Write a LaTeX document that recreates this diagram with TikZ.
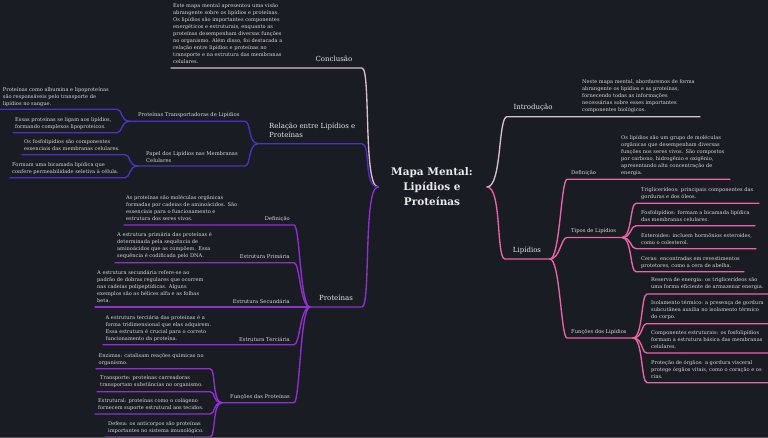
\documentclass[tikz,border=0pt]{standalone}
\usepackage{fontspec}
\setmainfont{DejaVu Serif}
\definecolor{bgc}{HTML}{1A1C23}
\definecolor{txt}{HTML}{DADADA}
\definecolor{pale}{HTML}{D9BFCE}
\definecolor{pinkc}{HTML}{E965A8}
\definecolor{purp}{HTML}{9030D0}
\definecolor{indi}{HTML}{5030C0}
\tikzset{
  x=1pt,y=-1pt,
  body/.style={anchor=north west,inner sep=0pt,align=left,text=txt,font=\fontsize{5.1}{7}\selectfont},
  sub/.style={anchor=west,inner sep=0pt,align=left,text=txt,font=\fontsize{5.2}{7}\selectfont},
  subr/.style={anchor=east,inner sep=0pt,align=right,text=txt,font=\fontsize{5.2}{7}\selectfont},
  mainl/.style={inner sep=0pt,align=left,text=white!90!black,font=\fontsize{7}{9}\selectfont},
  wire/.style={line width=1.35pt,line cap=round,line join=round},
  lvl1/.style={wire,out=0,in=180,out distance=15pt,in distance=9pt},
  lvl2/.style={wire,out=0,in=180,out distance=10pt,in distance=6pt},
  lvl1r/.style={wire,out=180,in=0,out distance=15pt,in distance=9pt},
  lvl2r/.style={wire,out=180,in=0,out distance=10pt,in distance=6pt},
}
\newcommand{\branch}[5]{\draw[#1,#2] (#3) to (#4) -- (#5);}
\begin{document}
\begin{tikzpicture}
\useasboundingbox (0,0) rectangle (768,438);
\fill[bgc] (0,0) rectangle (768,438);
\clip (0,0) rectangle (768,438);
\node[inner sep=0pt,align=center,text=white!92!black,font=\fontsize{10.5}{15}\selectfont\bfseries] (root) at (432,187) {Mapa Mental:\\Lipídios e\\Proteínas};
\coordinate (hr) at (487,187); \coordinate (hl) at (378,187);
% right side
\coordinate (ia) at (507,116.7); \coordinate (ib) at (700,116.7);
\branch{lvl1}{pale}{hr}{ia}{ib}
\node[mainl,anchor=center] (intro) at (533,107) {Introdução};
\node[body] (introt) at (582,79.5) {Neste mapa mental, abordaremos de forma\\abrangente os lipídios e as proteínas,\\fornecendo todas as informações\\necessárias sobre esses importantes\\componentes biológicos.};
\coordinate (la) at (505,259); \coordinate (lh) at (550,259);
\branch{lvl1}{pinkc}{hr}{la}{lh}
\node[mainl,anchor=center] (lip) at (527,250) {Lipídios};
\coordinate (da) at (567,179.3); \coordinate (db) at (730,179.3);
\branch{lvl2}{pinkc}{lh}{da}{db}
\node[sub] (def) at (571,173) {Definição};
\node[body] (deft) at (621,135.5) {Os lipídios são um grupo de moléculas\\orgânicas que desempenham diversas\\funções nos seres vivos. São compostos\\por carbono, hidrogênio e oxigênio,\\apresentando alta concentração de\\energia.};
\coordinate (ta) at (567,237.5); \coordinate (th) at (622,237.5);
\branch{lvl2}{pinkc}{lh}{ta}{th}
\node[sub] (tip) at (571,231) {Tipos de Lipídios};
\coordinate (t1a) at (636,203.3); \coordinate (t1b) at (759,203.3);
\coordinate (t2a) at (636,225.7); \coordinate (t2b) at (755,225.7);
\coordinate (t3a) at (636,248.7); \coordinate (t3b) at (756,248.7);
\coordinate (t4a) at (636,271.7); \coordinate (t4b) at (744,271.7);
\branch{lvl2}{pinkc}{th}{t1a}{t1b}
\branch{lvl2}{pinkc}{th}{t2a}{t2b}
\branch{lvl2}{pinkc}{th}{t3a}{t3b}
\branch{lvl2}{pinkc}{th}{t4a}{t4b}
\node[body] (t1) at (641,187.5) {Triglicerídeos: principais componentes das\\gorduras e dos óleos.};
\node[body] (t2) at (641,210) {Fosfolipídios: formam a bicamada lipídica\\das membranas celulares.};
\node[body] (t3) at (641,233) {Esteroides: incluem hormônios esteroides,\\como o colesterol.};
\node[body] (t4) at (641,256) {Ceras: encontradas em revestimentos\\protetores, como a cera de abelha.};
\coordinate (fa) at (567,338); \coordinate (fh) at (633,338);
\branch{lvl2}{pinkc}{lh}{fa}{fh}
\node[sub] (fun) at (571,332) {Funções dos Lipídios};
\coordinate (f1a) at (647,294); \coordinate (f1b) at (768,294);
\coordinate (f2a) at (647,323.7); \coordinate (f2b) at (768,323.7);
\coordinate (f3a) at (647,353); \coordinate (f3b) at (768,353);
\coordinate (f4a) at (647,382.7); \coordinate (f4b) at (768,382.7);
\branch{lvl2}{pinkc}{fh}{f1a}{f1b}
\branch{lvl2}{pinkc}{fh}{f2a}{f2b}
\branch{lvl2}{pinkc}{fh}{f3a}{f3b}
\branch{lvl2}{pinkc}{fh}{f4a}{f4b}
\node[body] (f1) at (651,277.5) {Reserva de energia: os triglicerídeos são\\uma forma eficiente de armazenar energia.};
\node[body] (f2) at (651,300.5) {Isolamento térmico: a presença de gordura\\subcutânea auxilia no isolamento térmico\\do corpo.};
\node[body] (f3) at (651,330.5) {Componentes estruturais: os fosfolipídios\\formam a estrutura básica das membranas\\celulares.};
\node[body] (f4) at (651,360.5) {Proteção de órgãos: a gordura visceral\\protege órgãos vitais, como o coração e os\\rins.};
% left side
\coordinate (ca) at (362,68); \coordinate (cb) at (171,68);
\branch{lvl1r}{pale}{hl}{ca}{cb}
\node[mainl,anchor=center] (con) at (334,59) {Conclusão};
\node[body] (cont) at (173,3.5) {Este mapa mental apresentou uma visão\\abrangente sobre os lipídios e proteínas.\\Os lipídios são importantes componentes\\energéticos e estruturais, enquanto as\\proteínas desempenham diversas funções\\no organismo. Além disso, foi destacada a\\relação entre lipídios e proteínas no\\transporte e na estrutura das membranas\\celulares.};
\coordinate (ra) at (362,143.7); \coordinate (rh) at (258,143.7);
\branch{lvl1r}{indi}{hl}{ra}{rh}
\node[mainl,anchor=west] (rel) at (269,130.5) {Relação entre Lipídios e\\Proteínas};
\coordinate (pa) at (245,121.3); \coordinate (ph) at (130,121.3);
\branch{lvl2r}{indi}{rh}{pa}{ph}
\node[sub] (pt) at (138,115) {Proteínas Transportadoras de Lipídios};
\coordinate (p1a) at (117,109.3); \coordinate (p1b) at (0,109.3);
\coordinate (p2a) at (117,132.7); \coordinate (p2b) at (13,132.7);
\branch{lvl2r}{indi}{ph}{p1a}{p1b}
\branch{lvl2r}{indi}{ph}{p2a}{p2b}
\node[body] (p1) at (2.7,87) {Proteínas como albumina e lipoproteínas\\são responsáveis pelo transporte de\\lipídios no sangue.};
\node[body] (p2) at (15,117) {Essas proteínas se ligam aos lipídios,\\formando complexos lipoproteicos.};
\coordinate (qa) at (245,166); \coordinate (qh) at (138,166);
\branch{lvl2r}{indi}{rh}{qa}{qh}
\node[sub] (pm) at (146,156.5) {Papel dos Lipídios nas Membranas\\Celulares};
\coordinate (q1a) at (125,154.7); \coordinate (q1b) at (22,154.7);
\coordinate (q2a) at (125,177.7); \coordinate (q2b) at (10,177.7);
\branch{lvl2r}{indi}{qh}{q1a}{q1b}
\branch{lvl2r}{indi}{qh}{q2a}{q2b}
\node[body] (q1) at (24,139) {Os fosfolipídios são componentes\\essenciais das membranas celulares.};
\node[body] (q2) at (12,162) {Formam uma bicamada lipídica que\\confere permeabilidade seletiva à célula.};
\coordinate (xa) at (362,307); \coordinate (xh) at (310,307);
\branch{lvl1r}{purp}{hl}{xa}{xh}
\node[mainl,anchor=center] (prot) at (336,298) {Proteínas};
\coordinate (x1a) at (294,225); \coordinate (x1b) at (124,225);
\coordinate (x2a) at (294,262.7); \coordinate (x2b) at (115,262.7);
\coordinate (x3b) at (95,307);
\coordinate (x4a) at (294,344.7); \coordinate (x4b) at (103,344.7);
\coordinate (x5a) at (294,402.7); \coordinate (x5h) at (222,402.7);
\branch{lvl2r}{purp}{xh}{x1a}{x1b}
\branch{lvl2r}{purp}{xh}{x2a}{x2b}
\draw[wire,purp] (xh) -- (x3b);
\branch{lvl2r}{purp}{xh}{x4a}{x4b}
\branch{lvl2r}{purp}{xh}{x5a}{x5h}
\node[subr] (d1) at (290,218.7) {Definição};
\node[subr] (d2) at (290,256.5) {Estrutura Primária};
\node[subr] (d3) at (290,301) {Estrutura Secundária};
\node[subr] (d4) at (290,339) {Estrutura Terciária};
\node[subr] (d5) at (290,397) {Funções das Proteínas};
\node[body] (e1) at (126,195.2) {As proteínas são moléculas orgânicas\\formadas por cadeias de aminoácidos. São\\essenciais para o funcionamento e\\estrutura dos seres vivos.};
\node[body] (e2) at (117,232.5) {A estrutura primária das proteínas é\\determinada pela sequência de\\aminoácidos que as compõem. Essa\\sequência é codificada pelo DNA.};
\node[body] (e3) at (97,270.5) {A estrutura secundária refere-se ao\\padrão de dobras regulares que ocorrem\\nas cadeias polipeptídicas. Alguns\\exemplos são as hélices alfa e as folhas\\beta.};
\node[body] (e4) at (105.5,315) {A estrutura terciária das proteínas é a\\forma tridimensional que elas adquirem.\\Essa estrutura é crucial para o correto\\funcionamento da proteína.};
\coordinate (y1a) at (210,368.7); \coordinate (y1b) at (96,368.7);
\coordinate (y2a) at (210,391.7); \coordinate (y2b) at (97,391.7);
\coordinate (y3a) at (210,414); \coordinate (y3b) at (95,414);
\coordinate (y4a) at (210,437); \coordinate (y4b) at (105,437);
\branch{lvl2r}{purp}{x5h}{y1a}{y1b}
\branch{lvl2r}{purp}{x5h}{y2a}{y2b}
\branch{lvl2r}{purp}{x5h}{y3a}{y3b}
\branch{lvl2r}{purp}{x5h}{y4a}{y4b}
\node[body] (z1) at (98.5,353) {Enzimas: catalisam reações químicas no\\organismo.};
\node[body] (z2) at (100,375.7) {Transporte: proteínas carreadoras\\transportam substâncias no organismo.};
\node[body] (z3) at (98,398.5) {Estrutural: proteínas como o colágeno\\fornecem suporte estrutural aos tecidos.};
\node[body] (z4) at (108,421.5) {Defesa: os anticorpos são proteínas\\importantes no sistema imunológico.};
\fill[black!65!white] (0,437.2) rectangle (768,438);
\end{tikzpicture}
\end{document}
